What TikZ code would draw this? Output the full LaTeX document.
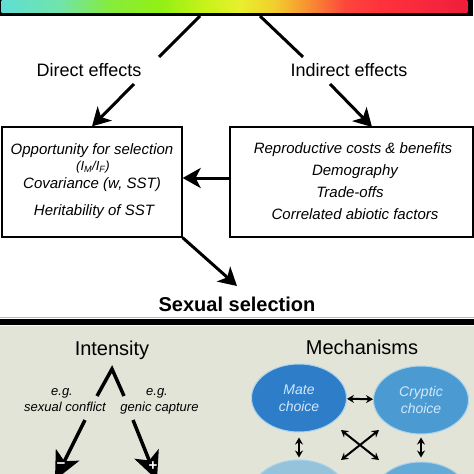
\documentclass[tikz,border=0pt]{standalone}
\usepackage{fontspec}
\setmainfont{Liberation Sans}
\usetikzlibrary{arrows.meta,shapes.geometric}
\definecolor{panelbg}{RGB}{226,228,216}
\definecolor{mateC}{RGB}{45,125,200}
\definecolor{cryptC}{RGB}{75,155,210}
\definecolor{blC}{RGB}{150,195,220}
\definecolor{brC}{RGB}{100,170,215}
\definecolor{ellTxt}{RGB}{210,232,250}
\definecolor{ellRim}{RGB}{170,210,235}
\definecolor{g0}{RGB}{95,222,212}
\definecolor{g1}{RGB}{112,228,170}
\definecolor{g2}{RGB}{135,235,60}
\definecolor{g3}{RGB}{145,240,20}
\definecolor{g4}{RGB}{200,242,25}
\definecolor{g5}{RGB}{232,240,45}
\definecolor{g6}{RGB}{242,205,45}
\definecolor{g7}{RGB}{248,140,50}
\definecolor{g8}{RGB}{252,70,60}
\definecolor{g9}{RGB}{255,50,60}
\definecolor{g10}{RGB}{238,30,60}
\begin{document}
\begin{tikzpicture}[x=1pt,y=-1pt,
  conn/.style={line width=3pt,-{Stealth[length=18pt,width=20pt,inset=5pt]}},
  bigconn/.style={line width=3.5pt,-{Stealth[length=28pt,width=26pt,inset=7pt]}},
  plainline/.style={line width=3pt},
  box/.style={draw,line width=1.3pt,minimum width=180pt,minimum height=110pt,inner sep=0pt},
  lbl/.style={font=\fontsize{18}{20}\selectfont,anchor=base,inner sep=0pt},
  boxtxt/.style={font=\fontsize{15}{17}\selectfont\itshape,anchor=base,inner sep=0pt},
  headtxt/.style={font=\fontsize{20}{22}\selectfont,anchor=base,inner sep=0pt},
  egtxt/.style={font=\fontsize{13}{15}\selectfont\itshape,anchor=base,inner sep=0pt},
  signtxt/.style={font=\fontsize{15}{17}\selectfont\bfseries,text=white,inner sep=0pt},
  mechell/.style={ellipse,minimum width=95pt,minimum height=68pt,draw=ellRim,line width=1pt,inner sep=0pt,
    font=\fontsize{14}{17}\selectfont\itshape,text=ellTxt,align=center},
  dbl/.style={line width=2pt,{Stealth[length=7pt,width=8pt]}-{Stealth[length=7pt,width=8pt]}}]
\useasboundingbox (0,0) rectangle (474,474);

% colour bar
\fill[black] (0,-2) rectangle (473,16);
\foreach \xa/\xb/\ca/\cb in {2/60/g0/g1,60/110/g1/g2,110/160/g2/g3,160/205/g3/g4,205/240/g4/g5,240/275/g5/g6,275/310/g6/g7,310/345/g7/g8,345/380/g8/g9,380/467/g9/g10}
  \shade[left color=\ca,right color=\cb] (\xa-0.3,-2) rectangle (\xb+0.3,12);

\coordinate (barA) at (200,16);
\coordinate (barB) at (260,16);
\coordinate (dEnd) at (159,57);
\coordinate (iEnd) at (303,57);

\node[lbl] (direct) at (89,76) {Direct effects};
\node[lbl] (indirect) at (349,76) {Indirect effects};

\draw[plainline] (barA) -- (dEnd);
\draw[plainline] (barB) -- (iEnd);

% boxes
\node[box] (leftbox) at (92,182) {};
\node[box,minimum width=243pt] (rightbox) at (351.5,182) {};

\node[boxtxt] (l1) at (92,154) {Opportunity for selection};
\node[boxtxt,font=\fontsize{13}{15}\selectfont\itshape] (l2) at (93,170) {(I\textsubscript{M}/I\textsubscript{F})};
\node[boxtxt] (l3) at (92,188) {Covariance (w, SST)};
\node[boxtxt] (l4) at (94,215) {Heritability of SST};

\node[boxtxt] (r1) at (353,153.5) {Reproductive costs \& benefits};
\node[boxtxt] (r2) at (355,175) {Demography};
\node[boxtxt] (r3) at (350,197) {Trade-offs};
\node[boxtxt] (r4) at (355,219) {Correlated abiotic factors};

\coordinate (dStart) at (134,84);
\coordinate (iStart) at (330,84);
\coordinate (iTip) at (372,127);
\draw[conn] (dStart) -- (leftbox.north);
\draw[conn] (iStart) -- (iTip);
\draw[conn] ([yshift=4pt]rightbox.west) -- ([yshift=4pt]leftbox.east);

\node[font=\fontsize{20}{22}\selectfont\bfseries,anchor=base,inner sep=0pt] (ss) at (237,311) {Sexual selection};
\coordinate (ssTip) at (237,286);
\draw[conn] (leftbox.south east) -- (ssTip);

% bottom panel
\fill[panelbg] (0,324) rectangle (474,474);
\draw[gray!55,line width=1pt] (0,317.5) -- (474,317.5);
\fill[black] (0,318.5) rectangle (474,324.5);
\draw[white!80!panelbg,line width=0.8pt] (0,325) -- (474,325);

\node[headtxt] (intensity) at (112,355) {Intensity};
\node[headtxt] (mechanisms) at (362,354) {Mechanisms};

\coordinate (apex) at (112,369);
\coordinate (chL) at (97,396);
\coordinate (chR) at (124,396);
\draw[line width=3.5pt,miter limit=10] (chL) -- (apex) -- (chR);

\node[egtxt] (egL1) at (62,395) {e.g.};
\node[egtxt] (egL2) at (65,411) {sexual conflict};
\node[egtxt] (egR1) at (157,395) {e.g.};
\node[egtxt] (egR2) at (159.5,411) {genic capture};

\begin{scope}
\clip (0,0) rectangle (474,474);
\coordinate (mLs) at (85,420);
\coordinate (mLe) at (55,480);
\coordinate (pRs) at (133,420);
\coordinate (pRe) at (157,480);
\draw[bigconn] (mLs) -- (mLe);
\draw[bigconn] (pRs) -- (pRe);
\node[signtxt] (minus) at (61,465.5) {−};
\node[signtxt] (plus) at (153,466) {+};

\node[mechell,fill=mateC] (mate) at (299,398) {Mate\\choice};
\node[mechell,fill=cryptC] (crypt) at (421,400) {Cryptic\\choice};
\node[mechell,fill=blC] (bl) at (299,494) {};
\node[mechell,fill=brC] (br) at (421,496) {};
\end{scope}

\draw[dbl] (mate) -- (crypt);
\draw[dbl] ([yshift=-5pt]mate.south) -- ([yshift=2pt]bl.north);
\draw[dbl] ([yshift=-3pt]crypt.south) -- ([yshift=4pt]br.north);
\coordinate (x1) at (341,430);
\coordinate (x2) at (379,460);
\coordinate (x3) at (379,430);
\coordinate (x4) at (341,460);
\draw[dbl] (x1) -- (x2);
\draw[dbl] (x3) -- (x4);
\end{tikzpicture}
\end{document}
